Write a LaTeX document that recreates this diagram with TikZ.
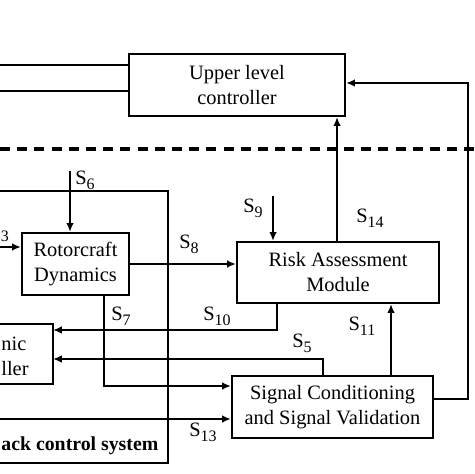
\documentclass[tikz,border=0pt]{standalone}
\usepackage{fontspec}
\setmainfont{Liberation Serif}
\usetikzlibrary{positioning, arrows.meta}

\newcommand{\sgn}[1]{S\raisebox{-0.55ex}{\fontsize{8}{9}\selectfont #1}}

\tikzset{
  block/.style={draw,line width=1.1pt,align=center,inner sep=0pt,font=\fontsize{10.2}{12.5}\selectfont},
  sig/.style={line width=1pt,-{Latex[length=4.4pt,width=3.8pt]}},
  wire/.style={line width=1pt},
  lab/.style={inner sep=0pt,font=\fontsize{10.2}{12}\selectfont}
}

\begin{document}
\begin{tikzpicture}[x=0.5pt,y=-0.5pt]
    \useasboundingbox (0,0) rectangle (474,474);
    % bloques principales
    \node[block,minimum width=108pt,minimum height=31pt] (upper) at (237,85) {Upper level\\controller};
    \node[block,minimum width=53.5pt,minimum height=31pt] (rotor) at (75.5,264) {Rotorcraft\\Dynamics};
    \node[block,minimum width=101pt,minimum height=30.5pt] (risk) at (338,272.5) {Risk Assessment\\Module};
    \node[block,minimum width=100.5pt,minimum height=31pt] (sc) at (332.5,407) {Signal Conditioning\\and Signal Validation};

    % cajas cortadas por el borde
    \draw[line width=1.1pt] (0,324) -- (53,324) -- (53,384) -- (0,384);
    \coordinate (dynr) at (53,354);
    \node[lab,anchor=west] (dyn1) at (1,344) {nic};
    \node[lab,anchor=west] (dyn2) at (1,369) {ller};
    \draw[line width=1.1pt] (0,191) -- (168,191) -- (168,463) -- (0,463);
    \node[lab,anchor=west,font=\fontsize{9.9}{12}\selectfont\bfseries] (fbc) at (1,446) {ack control system};

    \draw[line width=1.6pt,dash pattern=on 5pt off 3.6pt] (0,149) -- (474,149);

    \coordinate (u1) at (0,65);
    \coordinate (u2) at (0,91);
    \draw[wire] (u1) -- (u1 -| upper.west);
    \draw[wire] (u2) -- (u2 -| upper.west);

    \coordinate (s3) at (0,247);
    \coordinate (s6) at (70,171);
    \coordinate (s9) at (273,196);
    \coordinate (s14) at (337,242);
    \coordinate (s10) at (277,330);
    \coordinate (s5) at (323,359);
    \coordinate (s11) at (391,376);
    \coordinate (s7) at (104,386);
    \coordinate (s13) at (0,419);
    \coordinate (c1) at (468,399);
    \coordinate (c2) at (468,83);

    \draw[sig] (s3) -- (s3 -| rotor.west);
    \draw[sig] (s6) -- (s6 |- rotor.north);
    \draw[sig] (rotor.east) -- (rotor.east -| risk.west);
    \draw[sig] (s9) -- (s9 |- risk.north);
    \draw[sig] (s14) -- (s14 |- upper.south);
    \draw[sig] (s10 |- risk.south) -- (s10) -- (s10 -| dynr);
    \draw[sig] (s5 |- sc.north) -- (s5) -- (s5 -| dynr);
    \draw[sig] (s11) -- (s11 |- risk.south);
    \draw[sig] (s7 |- rotor.south) -- (s7) -- (s7 -| sc.west);
    \draw[sig] (s13) -- (s13 -| sc.west);
    \draw[sig] (c1 -| sc.east) -- (c1) -- (c2) -- (c2 -| upper.east);

    \node[lab,font=\fontsize{8}{9}\selectfont] (l3) at (5,236) {3};
    \node[lab] (l6) at (85,180) {\sgn{6}};
    \node[lab] (l8) at (189,244) {\sgn{8}};
    \node[lab] (l9) at (253,208) {\sgn{9}};
    \node[lab] (l14) at (370,218) {\sgn{14}};
    \node[lab] (l7) at (121,316) {\sgn{7}};
    \node[lab] (l10) at (217,316) {\sgn{10}};
    \node[lab] (l5) at (302,343) {\sgn{5}};
    \node[lab] (l11) at (362,326) {\sgn{11}};
    \node[lab] (l13) at (203,432) {\sgn{13}};
\end{tikzpicture}
\end{document}
